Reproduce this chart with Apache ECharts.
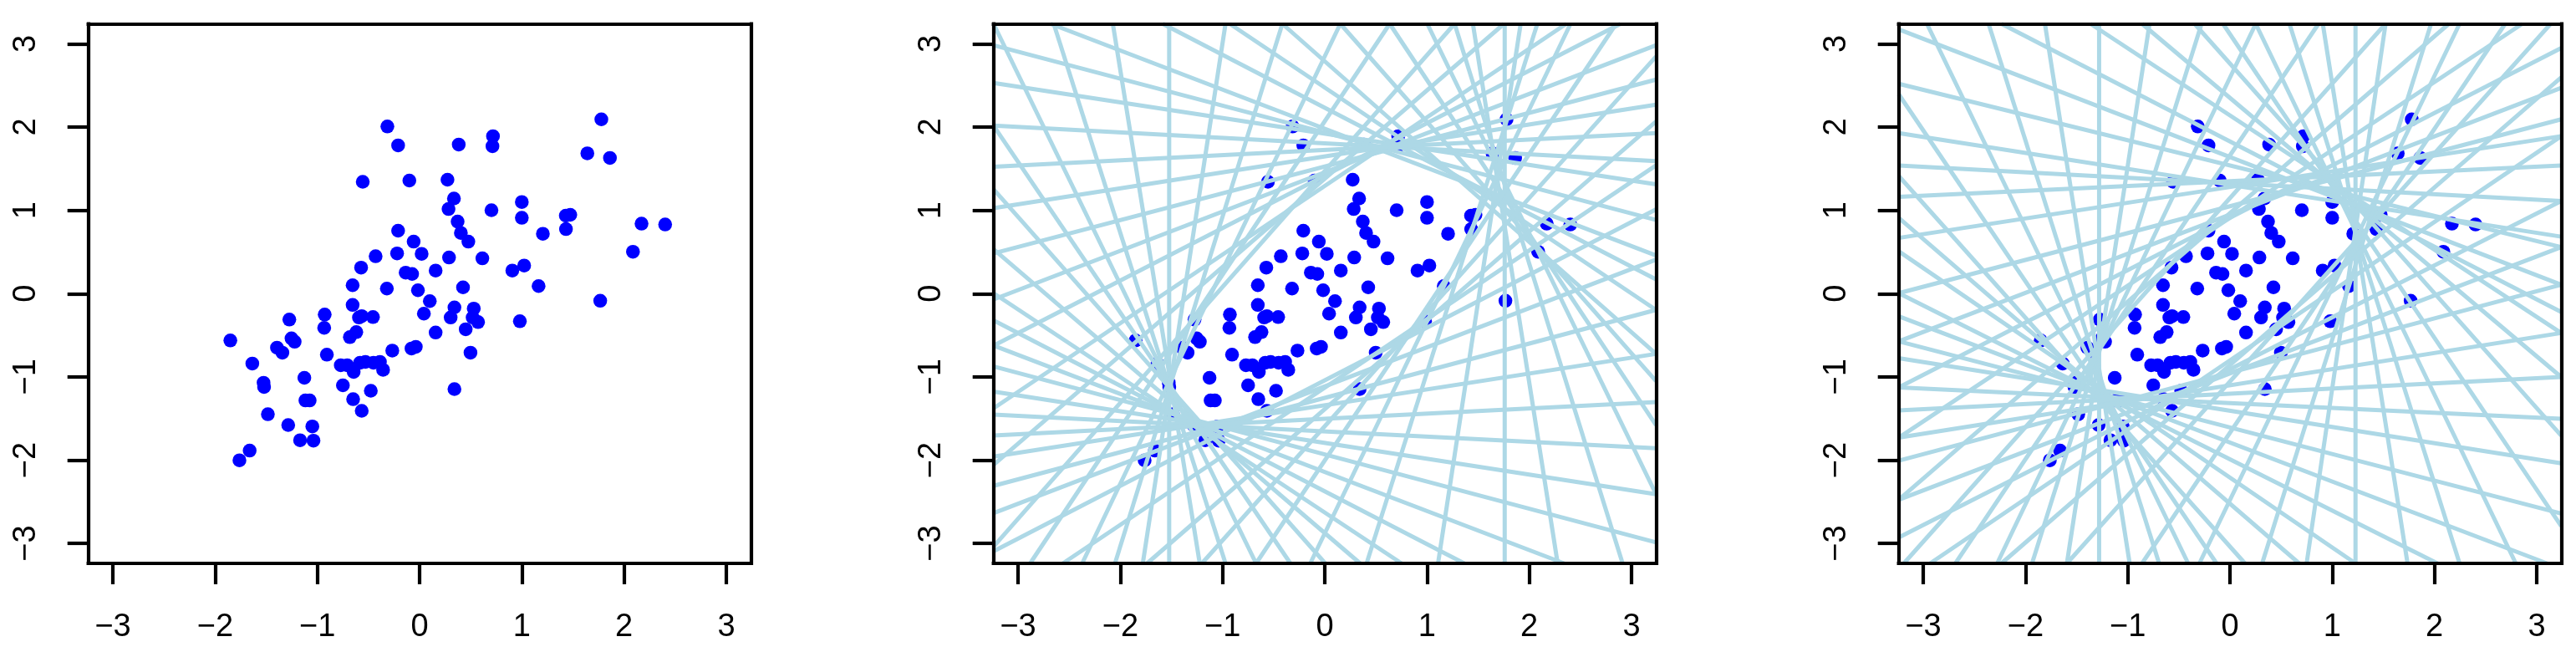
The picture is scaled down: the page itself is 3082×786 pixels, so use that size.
<!DOCTYPE html>
<html>
<head>
<meta charset="utf-8">
<style>
html, body { margin: 0; padding: 0; background: #fff; }
#chart { width: 3082px; height: 786px; }
</style>
<script src="https://cdn.jsdelivr.net/npm/echarts@6/dist/echarts.min.js"></script>
</head>
<body>
<div id="chart"></div>
<script>
// points shared by the three panels
const pointX = [-0.315,-0.21,0.383,0.718,0.713,1.778,1.641,1.862,-0.556,-0.1,0.273,0.336,0.283,0.703,1.0,1.0,1.474,1.43,1.432,1.206,2.171,2.402,2.087,0.372,0.404,0.477,-0.21,-0.058,-0.22,0.02,0.288,0.614,-0.43,-0.572,-0.136,-0.073,0.157,0.907,1.023,1.164,-0.655,-0.32,-0.016,0.425,0.1,-0.655,-0.928,-0.933,-1.274,-0.593,-0.566,-0.456,0.042,0.341,0.304,0.53,0.519,0.572,0.451,0.157,0.981,1.767,-0.619,-0.682,-1.851,-1.253,-1.222,-1.395,-1.342,-0.907,-0.267,-0.079,-0.037,0.498,-1.636,-0.771,-0.708,-0.645,-0.582,-0.53,-0.451,-0.388,-0.357,-1.526,-1.521,-1.127,-0.75,-0.477,0.341,-1.117,-1.075,-0.65,-0.566,-1.484,-1.285,-1.049,-1.169,-1.038,-1.662,-1.762];
const pointY = [2.007,1.78,1.79,1.891,1.77,2.093,1.685,1.63,1.343,1.358,1.368,1.142,1.016,1.001,1.1,0.91,0.946,0.936,0.775,0.719,0.84,0.83,0.503,0.865,0.729,0.624,0.755,0.624,0.483,0.478,0.433,0.423,0.448,0.312,0.252,0.236,0.277,0.277,0.337,0.09,0.1,0.06,0.04,0.075,-0.09,-0.136,-0.252,-0.412,-0.312,-0.287,-0.27,-0.282,-0.241,-0.166,-0.287,-0.18,-0.287,-0.342,-0.428,-0.468,-0.332,-0.086,-0.463,-0.523,-0.563,-0.538,-0.578,-0.649,-0.709,-0.734,-0.684,-0.659,-0.639,-0.709,-0.84,-0.86,-0.86,-0.94,-0.83,-0.82,-0.83,-0.82,-0.915,-1.071,-1.122,-1.011,-1.102,-1.167,-1.147,-1.283,-1.283,-1.268,-1.408,-1.449,-1.579,-1.595,-1.761,-1.766,-1.886,-2.002];

const tickValues = [-3, -2, -1, 0, 1, 2, 3];
const tickLabels = ['\u22123', '\u22122', '\u22121', '0', '1', '2', '3'];

// each line as x1, y1, x2, y2, read where it meets the box
const middleLines = [
    [-1.522,3.24,-1.522,-3.24],[1.76,3.24,1.76,-3.24],
    [-2.073,3.24,-1.223,-3.24],[-2.651,3.24,-0.971,-3.24],[-3.24,3.24,-0.672,-3.24],
    [-3.24,2.017,-0.336,-3.24],[-3.24,1.253,0.005,-3.24],[-3.24,0.533,0.346,-3.24],
    [-3.24,0.005,0.751,-3.24],[-3.24,-0.322,1.365,-3.24],[-3.24,-0.624,2.341,-3.24],
    [-3.24,-0.875,3.24,-2.988],[-3.24,-1.177,3.24,-2.409],[-3.24,-1.454,3.24,-1.856],
    [1.449,3.24,2.278,-3.24],[1.27,3.24,2.913,-3.24],[1.003,3.24,3.24,-2.409],
    [0.635,3.24,3.24,-1.579],[0.152,3.24,3.24,-1.051],[-0.415,3.24,3.24,-0.724],
    [-0.929,3.24,3.24,-0.196],[-1.585,3.24,3.24,0.171],[-2.682,3.24,3.24,0.458],
    [-3.24,2.983,3.24,0.885],[-3.24,2.53,3.24,1.313],[-3.24,2.017,3.24,1.59],
    [-0.971,3.24,-1.78,-3.24],[-0.415,3.24,-2.052,-3.24],[0.152,3.24,-2.373,-3.24],
    [0.635,3.24,-2.882,-3.24],[1.27,3.24,-3.24,-3.038],[1.753,3.24,-3.24,-2.057],
    [2.362,3.24,-3.24,-1.378],[2.892,3.24,-3.24,-0.624],[3.24,2.983,-3.24,-0.07],
    [3.24,2.57,-3.24,0.483],[3.24,2.269,-3.24,1.026],[3.24,1.927,-3.24,1.524],
    [1.916,3.24,1.108,-3.24],[2.079,3.24,0.409,-3.24],[2.404,3.24,-0.142,-3.24],
    [2.85,3.24,-0.672,-3.24],[3.24,2.847,-1.202,-3.24],[3.24,2.067,-1.738,-3.24],
    [3.24,1.539,-2.562,-3.24],[3.24,1.011,-3.24,-3.094],[3.24,0.407,-3.24,-2.636],
    [3.24,-0.196,-3.24,-2.309],[3.24,-0.724,-3.24,-1.957],[3.24,-1.303,-3.24,-1.705]
];
const rightLines = [
    [-1.28,3.24,-1.28,-3.24],[1.228,3.24,1.228,-3.24],
    [-1.81,3.24,-0.981,-3.24],[-2.361,3.24,-0.693,-3.24],[-2.964,3.24,-0.409,-3.24],
    [-3.24,2.394,-0.131,-3.24],[-3.24,1.413,0.147,-3.24],[-3.24,0.91,0.677,-3.24],
    [-3.24,0.508,1.228,-3.24],[-3.24,0.005,2.03,-3.24],[-3.24,-0.272,3.101,-3.24],
    [-3.24,-0.573,3.24,-2.641],[-3.24,-0.775,3.24,-2.037],[-3.24,-1.127,3.24,-1.504],
    [0.908,3.24,1.737,-3.24],[0.582,3.24,2.246,-3.24],[0.252,3.24,2.796,-3.24],
    [-0.068,3.24,3.24,-2.792],[-0.346,3.24,3.24,-1.705],[-0.86,3.24,3.24,-1.001],
    [-1.364,3.24,3.24,-0.473],[-2.235,3.24,3.24,-0.221],[-3.24,3.174,3.24,0.106],
    [-3.24,2.52,3.24,0.558],[-3.24,1.927,3.24,0.684],[-3.24,1.539,3.24,1.112],
    [-0.787,3.24,-1.595,-3.24],[-0.278,3.24,-1.936,-3.24],[0.252,3.24,-2.277,-3.24],
    [0.866,3.24,-2.686,-3.24],[1.522,3.24,-3.19,-3.24],[2.141,3.24,-3.24,-2.475],
    [2.859,3.24,-3.24,-1.73],[3.24,2.948,-3.24,-1.127],[3.24,2.47,-3.24,-0.573],
    [3.24,2.093,-3.24,0.005],[3.24,1.891,-3.24,0.669],[3.24,1.539,-3.24,1.162],
    [1.522,3.24,0.75,-3.24],[1.967,3.24,0.315,-3.24],[2.246,3.24,-0.299,-3.24],
    [2.692,3.24,-0.86,-3.24],[3.137,3.24,-1.595,-3.24],[3.24,2.596,-2.235,-3.24],
    [3.24,1.891,-2.933,-3.24],[3.24,1.112,-3.24,-2.928],[3.24,0.558,-3.24,-2.475],
    [3.24,0.106,-3.24,-2.007],[3.24,-0.473,-3.24,-1.73],[3.24,-1.001,-3.24,-1.403]
];

const panelLines = [[], middleLines, rightLines];
const panelLefts = [105.7, 1188.7, 2271.7];
const axisLimit = 3.24;
const inkWidth = 4.2;

let points = pointX.map(function (x, i) { return [x, pointY[i]]; });

// one box side: the bottom and left sides also carry ticks and labels
function makeAxis(gridIndex, position, labelled) {
    return {
        type: 'value',
        gridIndex: gridIndex,
        position: position,
        min: -axisLimit,
        max: axisLimit,
        z: 5,
        silent: true,
        axisLine: { show: true, onZero: false, lineStyle: { color: '#000', width: inkWidth, cap: 'square' } },
        axisTick: {
            show: labelled,
            customValues: tickValues,
            length: 25,
            lineStyle: { color: '#000', width: inkWidth }
        },
        axisLabel: {
            show: labelled,
            customValues: tickValues,
            rotate: position === 'left' ? 90 : 0,
            margin: position === 'left' ? 55 : 58,
            color: '#000',
            fontSize: 38,
            fontFamily: 'Liberation Sans',
            formatter: function (value) {
                return tickLabels[tickValues.indexOf(value)];
            }
        },
        splitLine: { show: false }
    };
}

let grids = [];
let xAxes = [];
let yAxes = [];
let series = [];

panelLefts.forEach(function (left, p) {
    grids.push({ left: left, top: 28.5, width: 792.6, height: 645.5 });
    // axis indexes: bottom then top, left then right
    xAxes.push(makeAxis(p, 'bottom', true), makeAxis(p, 'top', false));
    yAxes.push(makeAxis(p, 'left', true), makeAxis(p, 'right', false));
    series.push({
        type: 'scatter',
        xAxisIndex: p * 2,
        yAxisIndex: p * 2,
        data: points,
        symbol: 'circle',
        symbolSize: 16.5,
        itemStyle: { color: '#0000FF', opacity: 1 },
        silent: true,
        z: 2
    });
    panelLines[p].forEach(function (seg) {
        series.push({
            type: 'line',
            xAxisIndex: p * 2,
            yAxisIndex: p * 2,
            data: [[seg[0], seg[1]], [seg[2], seg[3]]],
            showSymbol: false,
            clip: true,
            silent: true,
            lineStyle: { color: '#ADD8E6', width: 5 },
            z: 3
        });
    });
});

let chart = echarts.init(document.getElementById('chart'), null, { renderer: 'canvas' });
chart.setOption({
    animation: false,
    backgroundColor: '#fff',
    grid: grids,
    xAxis: xAxes,
    yAxis: yAxes,
    series: series
});
</script>
</body>
</html>
